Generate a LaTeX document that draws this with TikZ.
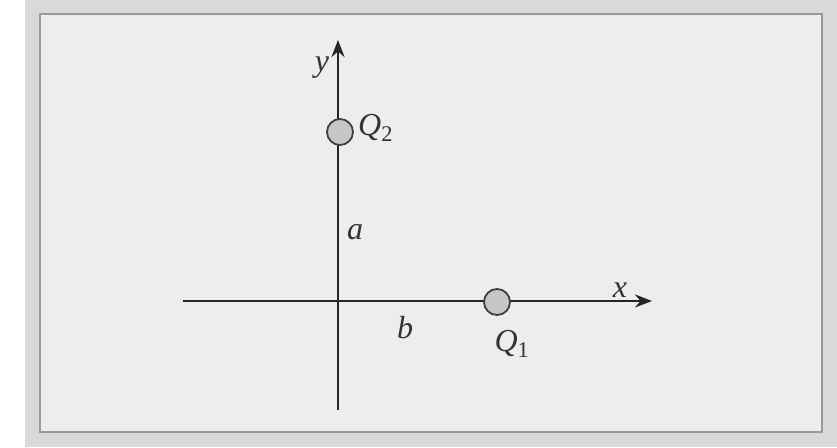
\documentclass[tikz,border=0pt]{standalone}
\usepackage{fontspec}
\setmainfont{Liberation Serif}[ItalicFont={Liberation Serif Italic}]
\usetikzlibrary{arrows.meta}

\tikzset{
        axis/.style = {line width=2.8pt, draw=black!85, -{Stealth[length=17pt,width=13pt]}},
        charge/.style = {circle, draw=black!75, line width=1.8pt, fill=black!22, minimum size=26pt, inner sep=0pt},
        lbl/.style = {font=\fontsize{32}{36}\selectfont\itshape, inner sep=0pt, text=black!80}
    }
\newcommand{\chg}[1]{Q\textsubscript{\upshape #1}}

\begin{document}
\begin{tikzpicture}[x=1pt,y=-1pt]
            \useasboundingbox (0,0) rectangle (837,447);
            \fill[black!15] (0,0) rectangle (837,447);
            \fill[white] (0,0) rectangle (25,447);
            \draw[black!40, line width=1.2pt, fill=black!7] (40,14) rectangle (822,432);

            \coordinate (xs) at (183,301);
            \coordinate (xe) at (652,301);
            \coordinate (ys) at (338,410);
            \coordinate (ye) at (338,40);

            \draw[axis] (xs) -- (xe);
            \draw[axis] (ys) -- (ye);

            \node[charge] (q2) at (340,132) {};
            \node[charge] (q1) at (497,302) {};

            \node[lbl] (ylab) at (322,68) {y};
            \node[lbl] (xlab) at (620,290) {x};
            \node[lbl,anchor=west] (q2lab) at (358,128) {\chg{2}};
            \node[lbl] (q1lab) at (512,344) {\chg{1}};
            \node[lbl] (alab) at (355,232) {a};
            \node[lbl] (blab) at (405,328) {b};
        \end{tikzpicture}
\end{document}
